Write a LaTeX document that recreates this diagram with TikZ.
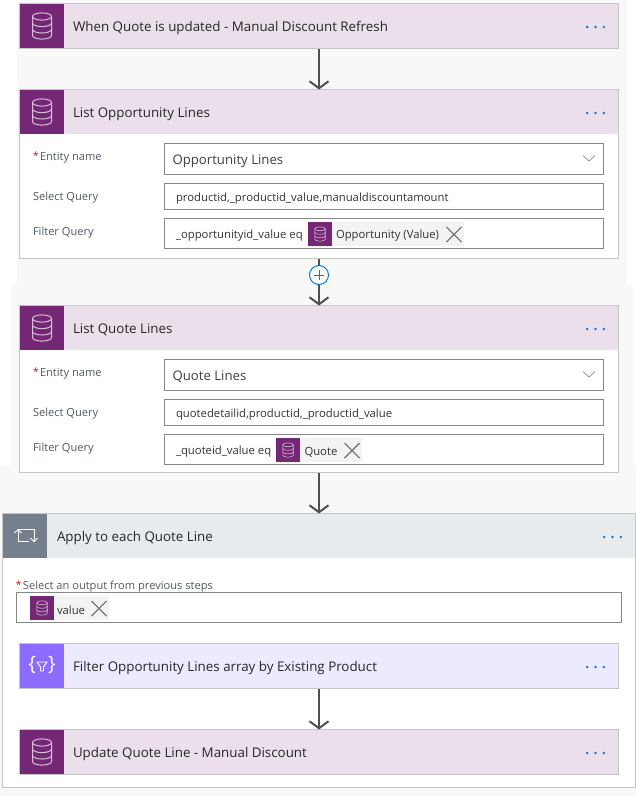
\documentclass[tikz,border=0pt]{standalone}
\usepackage{fontspec}
\setmainfont{Open Sans}
\usetikzlibrary{arrows.meta,calc,positioning}
\definecolor{panel}{HTML}{F8F8F8}
\definecolor{cardedge}{HTML}{C8C6C4}
\definecolor{dbpurple}{HTML}{742774}
\definecolor{dbhead}{HTML}{EBDFEB}
\definecolor{loopgrey}{HTML}{767F8D}
\definecolor{loophead}{HTML}{E8EBED}
\definecolor{filtviolet}{HTML}{8C6CFF}
\definecolor{filthead}{HTML}{EDE9FF}
\definecolor{dots}{HTML}{0078D4}
\definecolor{flowline}{HTML}{505050}
\definecolor{labeltext}{HTML}{505A66}
\definecolor{fieldedge}{HTML}{8A8886}
\definecolor{chipbg}{HTML}{F3F3F3}
\definecolor{iconline}{HTML}{D8BFD8}
\tikzset{
  x=1pt,y=-1pt,
  every node/.style={inner sep=0pt,outer sep=0pt},
  card/.style={draw=cardedge,line width=1pt,fill=white,rectangle,anchor=north west},
  title/.style={anchor=west,font=\fontsize{13.35}{15}\selectfont,text=black!85},
  flab/.style={anchor=west,font=\fontsize{11.1}{13}\selectfont,text=labeltext},
  star/.style={anchor=west,font=\fontsize{10}{13}\selectfont,text=red!85!black},
  fval/.style={anchor=west,font=\fontsize{11.3}{13}\selectfont,text=black!80},
  bigval/.style={anchor=west,font=\fontsize{13.2}{15}\selectfont,text=black!75},
  fieldbox/.style={draw=fieldedge,line width=1pt,fill=white,rectangle,anchor=north west},
  flow/.style={draw=flowline,line width=2pt,-{Straight Barb[length=7pt,width=19pt,line width=2pt]}},
  flowplain/.style={draw=flowline,line width=2pt},
  plusnode/.style={circle,draw=dots,fill=white,line width=1pt,minimum size=19pt},
}
\newcommand{\boxat}[6]{% name,style,x0,y0,x1,y1
  \pgfmathsetmacro\boxw{#5-#3}\pgfmathsetmacro\boxh{#6-#4}
  \node[#2,minimum width=\boxw pt,minimum height=\boxh pt] (#1) at (#3,#4) {};}
\newcommand{\dbicon}[3]{% cx,cy,scale
  \begin{scope}[shift={(#1,#2)},scale=#3,draw=iconline,line width=#3*1pt,fill=none]
    \draw (0,-9.5) ellipse [x radius=9.5,y radius=3.6];
    \draw (-9.5,-9.5) -- (-9.5,9.5) arc [start angle=180,end angle=360,x radius=9.5,y radius=-3.6] -- (9.5,-9.5);
    \draw (-9.5,-3) arc [start angle=180,end angle=360,x radius=9.5,y radius=-3.6];
    \draw (-9.5,3.4) arc [start angle=180,end angle=360,x radius=9.5,y radius=-3.6];
  \end{scope}}
\newcommand{\threedots}[2]{%
  \foreach \d in {-8.3,0,8.3}{\fill[dots] (#1+\d,#2) circle (1.3);}}
\newcommand{\crossmark}[2]{%
  \draw[fieldedge!90!black,line width=1.4pt] (#1-7.5,#2-7.5) -- (#1+7.5,#2+7.5) (#1-7.5,#2+7.5) -- (#1+7.5,#2-7.5);}
\newcommand{\chev}[2]{%
  \draw[fieldedge,line width=.7pt] (#1-6,#2-2.5) -- (#1,#2+3) -- (#1+6,#2-2.5);}
\begin{document}
\begin{tikzpicture}
\useasboundingbox (0,0) rectangle (636,796);
\fill[white] (0,0) rectangle (636,796);
\fill[panel] (17,0) rectangle (627,285);
\fill[panel] (11,285) rectangle (633,466);
\fill[panel] (0,466) rectangle (636,796);

% ---- trigger card
\boxat{trig}{card}{19.5}{3.5}{618.5}{48.5}
\fill[dbhead] (20,4) rectangle (618,48);
\fill[dbpurple] (20,4) rectangle (64,48);
\dbicon{42}{26}{1}
\node[title] (trigt) at (73,28) {When Quote is updated - Manual Discount Refresh};
\threedots{595.5}{27}

% ---- list opportunity lines
\boxat{opp}{card}{19.5}{89.5}{618.5}{258.5}
\fill[dbhead] (20,90) rectangle (618,134);
\fill[dbpurple] (20,90) rectangle (64,134);
\dbicon{42}{112}{1}
\node[title] (oppt) at (73,114) {List Opportunity Lines};
\threedots{595.5}{113}
\node[star] (opps) at (33,156) {*};
\node[flab] (oppe) at (40,157.5) {Entity name};
\node[flab] (oppq) at (33,197.5) {Select Query};
\node[flab] (oppf) at (33,232.5) {Filter Query};
\boxat{oppeb}{fieldbox}{164.5}{143.5}{603.5}{174.5}
\node[bigval] (oppev) at (172.5,161) {Opportunity Lines};
\chev{589}{158}
\boxat{oppqb}{fieldbox}{164.5}{183.5}{603.5}{209.5}
\node[fval] (oppqv) at (176,198.5) {productid,\_productid\_value,manualdiscountamount};
\boxat{oppfb}{fieldbox}{164.5}{218.5}{603.5}{248.5}
\node[fval] (oppfv) at (176,236) {\_opportunityid\_value eq};
\fill[chipbg] (308,222) rectangle (464,246);
\fill[dbpurple] (308,222) rectangle (332,246);
\dbicon{320}{234}{.55}
\node[fval] (oppchip) at (336,236) {Opportunity (Value)};
\crossmark{454}{234.5}

% ---- list quote lines
\boxat{quo}{card}{19.5}{305.5}{618.5}{472.5}
\fill[dbhead] (20,306) rectangle (618,350);
\fill[dbpurple] (20,306) rectangle (64,350);
\dbicon{42}{328}{1}
\node[title] (quot) at (73,330) {List Quote Lines};
\threedots{595.5}{329}
\node[star] (quos) at (33,372) {*};
\node[flab] (quoe) at (40,373.5) {Entity name};
\node[flab] (quoq) at (33,413.5) {Select Query};
\node[flab] (quof) at (33,448.5) {Filter Query};
\boxat{quoeb}{fieldbox}{164.5}{359.5}{603.5}{390.5}
\node[bigval] (quoev) at (172.5,377) {Quote Lines};
\chev{589}{374}
\boxat{quoqb}{fieldbox}{164.5}{399.5}{603.5}{425.5}
\node[fval] (quoqv) at (176,414.5) {quotedetailid,productid,\_productid\_value};
\boxat{quofb}{fieldbox}{164.5}{434.5}{603.5}{464.5}
\node[fval] (quofv) at (176,452) {\_quoteid\_value eq};
\fill[chipbg] (276,438) rectangle (362,462);
\fill[dbpurple] (276,438) rectangle (300,462);
\dbicon{288}{450}{.55}
\node[fval] (quochip) at (304.5,452) {Quote};
\crossmark{352}{450.5}

% ---- apply to each
\boxat{loop}{card}{2.5}{513.5}{635.5}{787.5}
\fill[loophead] (3,514) rectangle (635,558);
\fill[loopgrey] (3,514) rectangle (47,558);
\begin{scope}[draw=white,line width=1pt]
  \draw (18,542) -- (18,529.5) -- (34,529.5) -- (34,541.5);
  \draw (14.5,533) -- (18,529.5) -- (21.5,533);
  \draw (18,541.5) -- (29,541.5);
  \draw (30.5,538) -- (34,541.5) -- (37.5,538);
\end{scope}
\node[title] (loopt) at (57,538) {Apply to each Quote Line};
\threedots{612.5}{537}
\node[star] (loops) at (16,585) {*};
\node[flab] (loopl) at (23,586.5) {Select an output from previous steps};
\boxat{loopb}{fieldbox}{16.5}{592.5}{621.5}{622.5}
\fill[chipbg] (30,596) rectangle (109,620);
\fill[dbpurple] (30,596) rectangle (54,620);
\dbicon{42}{608}{.55}
\node[fval] (loopv) at (57,610) {value};
\crossmark{99}{608.5}

\boxat{filt}{card}{19.5}{643.5}{618.5}{688.5}
\fill[filthead] (20,644) rectangle (618,688);
\fill[filtviolet] (20,644) rectangle (64,688);
\node[anchor=center,text=white,font=\fontsize{20}{20}\selectfont] (filtb) at (42,665) {\{\hspace{12pt}\}};
\draw[white,line width=.9pt,line join=round] (37,662) -- (47,662) -- (43.5,667) -- (43.5,671) -- (40.5,671) -- (40.5,667) -- cycle;
\node[title] (filtt) at (73,668) {Filter Opportunity Lines array by Existing Product};
\threedots{595.5}{667}

\boxat{upd}{card}{19.5}{729.5}{618.5}{774.5}
\fill[dbhead] (20,730) rectangle (618,774);
\fill[dbpurple] (20,730) rectangle (64,774);
\dbicon{42}{752}{1}
\node[title] (updt) at (73,754) {Update Quote Line - Manual Discount};
\threedots{595.5}{753}

% ---- connectors
\node[plusnode] (plus) at (319,275) {};
\draw[dots,line width=1pt] (plus.center) +(-5,0) -- +(5,0) (plus.center) +(0,-5) -- +(0,5);
\draw[flow] (trig) -- (opp);
\draw[flowplain] (opp) -- (plus);
\draw[flow] (plus) -- (quo);
\draw[flow] (quo) -- (loop);
\draw[flow] (filt) -- (upd);
\end{tikzpicture}
\end{document}
